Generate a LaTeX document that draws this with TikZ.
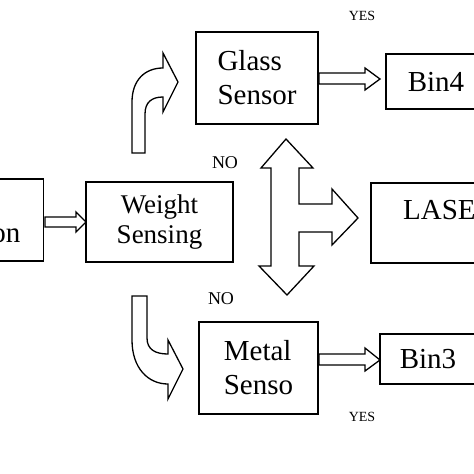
\documentclass[tikz,border=0pt]{standalone}
\usepackage{fontspec}
\setmainfont{Liberation Serif}
\begin{document}
\begin{tikzpicture}[x=1pt,y=-1pt,
  box/.style={draw, line width=1.8pt, inner sep=0pt},
  bigtext/.style={font=\fontsize{29}{34}\selectfont, align=left, inner sep=0pt},
  wtext/.style={font=\fontsize{27}{30}\selectfont, align=center, inner sep=0pt},
  yeslbl/.style={font=\fontsize{14}{16}\selectfont, inner sep=0pt},
  nolbl/.style={font=\fontsize{18}{20}\selectfont, inner sep=0pt},
  blockarrow/.style={draw, line width=1.3pt, line join=miter, fill=white}]
\useasboundingbox (0,0) rectangle (474,474);
\clip (0,0) rectangle (474,474);

% boxes
\node[box, minimum width=143pt, minimum height=82pt] (src) at (-28,220) {};
\node[bigtext, anchor=base east] (srct) at (20.5,242) {on};
\node[box, minimum width=147pt, minimum height=80pt, wtext] (weight) at (159.5,222) {Weight\\Sensing};
\node[box, minimum width=122pt, minimum height=92pt, bigtext] (glass) at (257,78) {Glass\\Sensor};
\node[box, minimum width=119pt, minimum height=92pt, bigtext] (metal) at (258.5,368) {Metal\\Senso};
\node[box, minimum width=100pt, minimum height=55pt, bigtext] (bin4) at (436,81.5) {Bin4};
\node[box, minimum width=96pt, minimum height=50pt, bigtext] (bin3) at (428,359) {Bin3};
\node[box, minimum width=160pt, minimum height=80pt, anchor=north west] (laser) at (370,182) {};
\node[bigtext, anchor=west] (lasert) at (403,210) {LASER};

% labels
\node[yeslbl] (yes1) at (362,16) {YES};
\node[yeslbl] (yes2) at (362,542/1.3) {YES};
\node[nolbl] (no1) at (225,163) {NO};
\node[nolbl] (no2) at (221,299) {NO};

% straight block arrows
\draw[blockarrow] (45,217) -- (76,217) -- (76,212) -- (86,222) -- (76,232) -- (76,227) -- (45,227) -- cycle;
\draw[blockarrow] (319,73) -- (365,73) -- (365,68) -- (380,79) -- (365,90) -- (365,84) -- (319,84) -- cycle;
\draw[blockarrow] (319,354) -- (365,354) -- (365,348) -- (380,360) -- (365,371) -- (365,365) -- (319,365) -- cycle;

% curved up arrow
\draw[blockarrow] (145,153) -- (145,114) .. controls (145,102) and (152,97) .. (163,97)
  -- (163,112) -- (178,82) -- (163,53) -- (163,68)
  .. controls (145,68) and (132,80) .. (132,102) -- (132,153) -- cycle;

% curved down arrow
\draw[blockarrow] (132,296) -- (132,340) .. controls (132,368) and (148,384) .. (168,384)
  -- (168,399) -- (183,369) -- (168,340) -- (168,354)
  .. controls (156,354) and (147,350) .. (147,338) -- (147,296) -- cycle;

% three-way arrow
\draw[blockarrow] (286,139) -- (313,168) -- (299,168) -- (299,204) -- (332,204) -- (332,189)
  -- (358,218) -- (332,245) -- (332,232) -- (299,232) -- (299,266) -- (314,266)
  -- (287,295) -- (259,266) -- (271,266) -- (271,168) -- (261,168) -- cycle;
\end{tikzpicture}
\end{document}
